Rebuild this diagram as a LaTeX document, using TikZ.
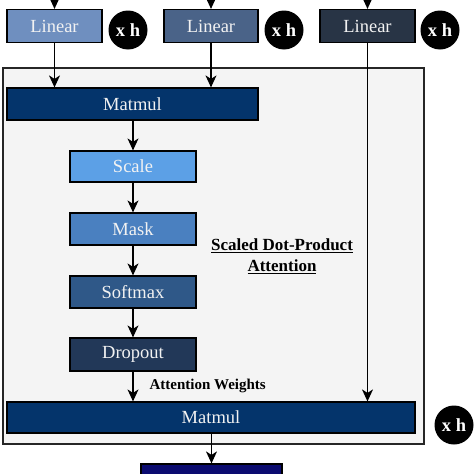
\documentclass[tikz,border=0pt]{standalone}
\usepackage{fontspec}
\setmainfont{Liberation Serif}
\usetikzlibrary{arrows.meta}
\definecolor{linA}{HTML}{6F8FBF}
\definecolor{linB}{HTML}{4A6388}
\definecolor{linC}{HTML}{283445}
\definecolor{matc}{HTML}{04346B}
\definecolor{scalec}{HTML}{5CA0E6}
\definecolor{maskc}{HTML}{4A80C0}
\definecolor{softc}{HTML}{2F5888}
\definecolor{dropc}{HTML}{223858}
\definecolor{lastc}{HTML}{0B0B70}
\definecolor{panel}{HTML}{F4F4F4}
\definecolor{boxtext}{HTML}{F2F2F2}
\tikzset{
  blk/.style={draw=black, line width=1.2pt, text=boxtext, inner sep=0pt,
    font=\fontsize{18.5}{20}\selectfont},
  headc/.style={circle, fill=black, text=white, inner sep=0pt, minimum size=39pt,
    font=\bfseries\fontsize{18.5}{20}\selectfont},
  arr/.style={draw=black, line width=1.3pt, -{Stealth[length=12pt,width=11pt,inset=3.5pt]}},
}
\begin{document}
\begin{tikzpicture}[x=1pt,y=-1pt]
\useasboundingbox (0,0) rectangle (474,474);
% panel
\draw[fill=panel, draw=black!85, line width=1.3pt] (3,68) rectangle (424,444);
% top linear boxes
\node[blk, fill=linA, minimum width=95pt, minimum height=33pt] (L1) at (54.5,26) {Linear};
\node[blk, fill=linB, minimum width=94pt, minimum height=33pt] (L2) at (211,26) {Linear};
\node[blk, fill=linC, minimum width=95pt, minimum height=33pt] (L3) at (367.5,26) {Linear};
\node[headc] (h1) at (128,30) {x h};
\node[headc] (h2) at (284,30) {x h};
\node[headc] (h3) at (440,30) {x h};
\coordinate (t1) at (54.5,-3);
\coordinate (t2) at (211,-3);
\coordinate (t3) at (367.5,-3);
% inner blocks
\node[blk, fill=matc, minimum width=251pt, minimum height=32pt] (M1) at (132.5,104) {Matmul};
\node[blk, fill=scalec, minimum width=126pt, minimum height=31pt] (S) at (133,166.5) {Scale};
\node[blk, fill=maskc, minimum width=126pt, minimum height=32pt] (K) at (133,229) {Mask};
\node[blk, fill=softc, minimum width=126pt, minimum height=32pt] (X) at (133,292) {Softmax};
\node[blk, fill=dropc, minimum width=126pt, minimum height=33pt] (D) at (133,354.5) {Dropout};
\node[blk, fill=matc, minimum width=408pt, minimum height=31pt] (M2) at (211,417.5) {Matmul};
\node[headc] (h4) at (454,425) {x h};
\node[blk, fill=lastc, minimum width=141pt, minimum height=36pt] (B) at (211.5,482) {};
% labels
\node[font=\bfseries\fontsize{17}{21}\selectfont, align=center] (title) at (282,256)
  {\underline{Scaled Dot-Product}\\\underline{Attention}};
\node[font=\bfseries\fontsize{15}{17}\selectfont, anchor=west] (aw) at (146,386) {Attention Weights};
% arrows
\draw[arr] (t1) -- (L1.north);
\draw[arr] (t2) -- (L2.north);
\draw[arr] (t3) -- (L3.north);
\draw[arr] (L1.south) -- (L1.south |- M1.north);
\draw[arr] (L2.south) -- (L2.south |- M1.north);
\draw[arr] (M1.south -| S.north) -- (S.north);
\draw[arr] (S) -- (K);
\draw[arr] (K) -- (X);
\draw[arr] (X) -- (D);
\draw[arr] (D.south) -- (D.south |- M2.north);
\draw[arr] (L3.south) -- (L3.south |- M2.north);
\draw[arr] (M2.south -| B.north) -- (B.north);
\end{tikzpicture}
\end{document}
